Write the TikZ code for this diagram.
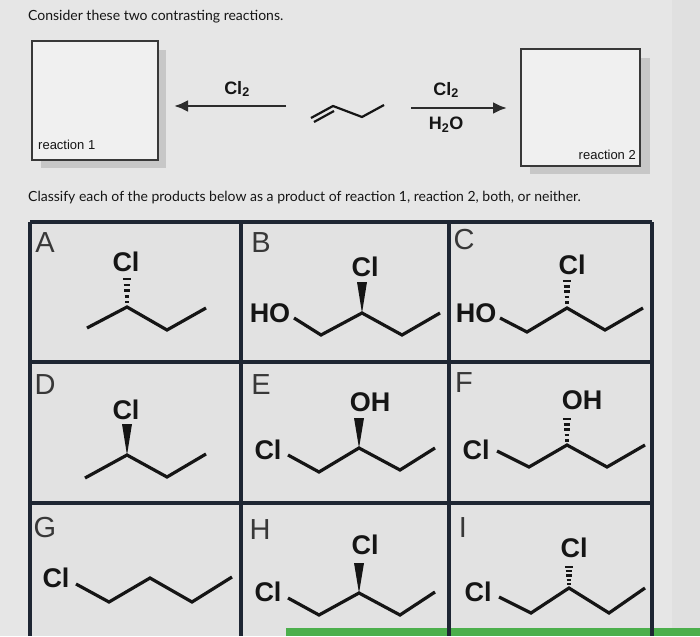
\documentclass[tikz,border=0pt]{standalone}
\usepackage{fontspec}
\setmainfont{Liberation Sans}
\newfontfamily\lato{Lato}
\usetikzlibrary{arrows.meta}
\definecolor{bg}{HTML}{E6E6E6}
\definecolor{cellbg}{HTML}{E2E2E2}
\definecolor{grid}{HTML}{1E2633}
\definecolor{ink}{HTML}{151515}
\tikzset{
  bond/.style={ink, line width=3.2pt, line join=miter},
  atom/.style={font=\fontsize{27}{27}\selectfont\bfseries, text=ink, inner sep=0pt},
  letter/.style={font=\fontsize{29}{29}\selectfont, text=ink!85, inner sep=0pt},
  rxbox/.style={draw=ink!85, line width=2.4pt, fill=bg!60!white},
  shadowbox/.style={fill=black!22},
  toptext/.style={font=\lato\fontsize{14}{14}\selectfont, text=ink, inner sep=0pt, anchor=west},
  small/.style={font=\fontsize{13}{13}\selectfont, text=ink, inner sep=0pt},
  rxlabel/.style={font=\fontsize{18}{18}\selectfont\bfseries, text=ink},
  rxarrow/.style={ink!90, line width=2.8pt, -{Latex[length=14pt,width=12pt]}},
  gridline/.style={grid, line width=3.4pt}
}
\newcommand{\wedgebond}[3]{% x, ybottom, ytop
  \fill[ink] (#1,#2) -- (#1-5,#3) -- (#1+5,#3) -- cycle;}
\newcommand{\hashbond}[3]{% x, ybottom, ytop
  \foreach \t in {0.12,0.3,0.48,0.66,0.84}{
    \draw[ink, line width=2.6pt] ({#1-1.5-3*\t},{#2+(#3-#2)*\t}) -- ({#1+1.5+3*\t},{#2+(#3-#2)*\t});}}
\begin{document}
\begin{tikzpicture}[x=1pt,y=-1pt]
\useasboundingbox (0,0) rectangle (700,636);
\fill[bg] (0,0) rectangle (700,636);
\fill[black!12] (672,0) rectangle (700,636);
% header
\node[toptext] (t1) at (28,17) {Consider these two contrasting reactions.};
\fill[shadowbox] (41,50) rectangle (166,168);
\node[rxbox, minimum width=126pt, minimum height=119pt, anchor=north west] (r1) at (31,40) {};
\node[small, anchor=west] (r1l) at (38,145) {reaction 1};
\fill[shadowbox] (530,58) rectangle (650,174);
\node[rxbox, minimum width=119pt, minimum height=117pt, anchor=north west] (r2) at (520,48) {};
\node[small, anchor=east] (r2l) at (636,155) {reaction 2};
\coordinate (a1s) at (286,106);
\coordinate (a1e) at (174,106);
\draw[rxarrow] (a1s) -- (a1e);
\node[rxlabel] (c1) at (237,89) {Cl\textsubscript{2}};
\coordinate (a2s) at (411,108);
\coordinate (a2e) at (507,108);
\draw[rxarrow] (a2s) -- (a2e);
\node[rxlabel] (c2) at (446,90) {Cl\textsubscript{2}};
\node[rxlabel] (w2) at (446,125) {H\textsubscript{2}O};
\draw[ink, line width=2.2pt] (311,118) -- (333,106) -- (362,117) -- (384,105);
\draw[ink, line width=2.2pt] (314,122) -- (334,111);
\node[toptext] (t2) at (28,198) {Classify each of the products below as a product of reaction 1, reaction 2, both, or neither.};
% grid
\fill[cellbg] (30,222) rectangle (652,636);
\fill[green!55!black!70] (286,628) rectangle (700,636);
\draw[gridline] (30,222) -- (652,222);
\draw[gridline] (30,362) -- (652,362);
\draw[gridline] (30,503) -- (652,503);
\draw[gridline] (30,222) -- (30,636);
\draw[gridline] (241,222) -- (241,636);
\draw[gridline] (449,222) -- (449,636);
\draw[gridline] (652,222) -- (652,636);
% letters
\node[letter] (LA) at (45,243) {A};
\node[letter] (LB) at (261,243) {B};
\node[letter] (LC) at (464,240) {C};
\node[letter] (LD) at (45,385) {D};
\node[letter] (LE) at (261,385) {E};
\node[letter] (LF) at (464,383) {F};
\node[letter] (LG) at (45,528) {G};
\node[letter] (LH) at (260,530) {H};
\node[letter] (LI) at (463,528) {I};
% A
\node[atom] (Acl) at (126,262) {Cl};
\draw[bond] (87,328) -- (127,307) -- (167,330) -- (206,308);
\hashbond{127}{306}{274}
% D
\node[atom] (Dcl) at (126,410) {Cl};
\draw[bond] (85,478) -- (127,455) -- (167,477) -- (206,454);
\wedgebond{127}{455}{424}
% B
\node[atom] (Bho) at (270,313) {HO};
\node[atom] (Bcl) at (365,267) {Cl};
\draw[bond] (294,318) -- (321,335) -- (362,313) -- (402,335) -- (440,313);
\wedgebond{362}{313}{282}
% C
\node[atom] (Cho) at (476,313) {HO};
\node[atom] (Ccl) at (572,265) {Cl};
\draw[bond] (500,318) -- (527,332) -- (567,308) -- (605,330) -- (643,308);
\hashbond{567}{306}{276}
% E
\node[atom] (Ecl) at (268,450) {Cl};
\node[atom] (Eoh) at (370,402) {OH};
\draw[bond] (288,455) -- (319,472) -- (359,448) -- (400,470) -- (435,448);
\wedgebond{359}{448}{418}
% F
\node[atom] (Fcl) at (476,450) {Cl};
\node[atom] (Foh) at (582,400) {OH};
\draw[bond] (497,451) -- (529,467) -- (567,445) -- (607,467) -- (645,445);
\hashbond{567}{444}{414}
% G
\node[atom] (Gcl) at (56,578) {Cl};
\draw[bond] (76,584) -- (109,602) -- (150,578) -- (192,602) -- (232,577);
% H
\node[atom] (Hcl) at (268,592) {Cl};
\node[atom] (Hcl2) at (365,545) {Cl};
\draw[bond] (288,598) -- (319,615) -- (359,593) -- (400,615) -- (435,592);
\wedgebond{359}{593}{563}
% I
\node[atom] (Icl) at (478,592) {Cl};
\node[atom] (Icl2) at (574,548) {Cl};
\draw[bond] (499,597) -- (531,613) -- (569,588) -- (609,613) -- (645,588);
\hashbond{569}{587}{563}
\end{tikzpicture}
\end{document}
